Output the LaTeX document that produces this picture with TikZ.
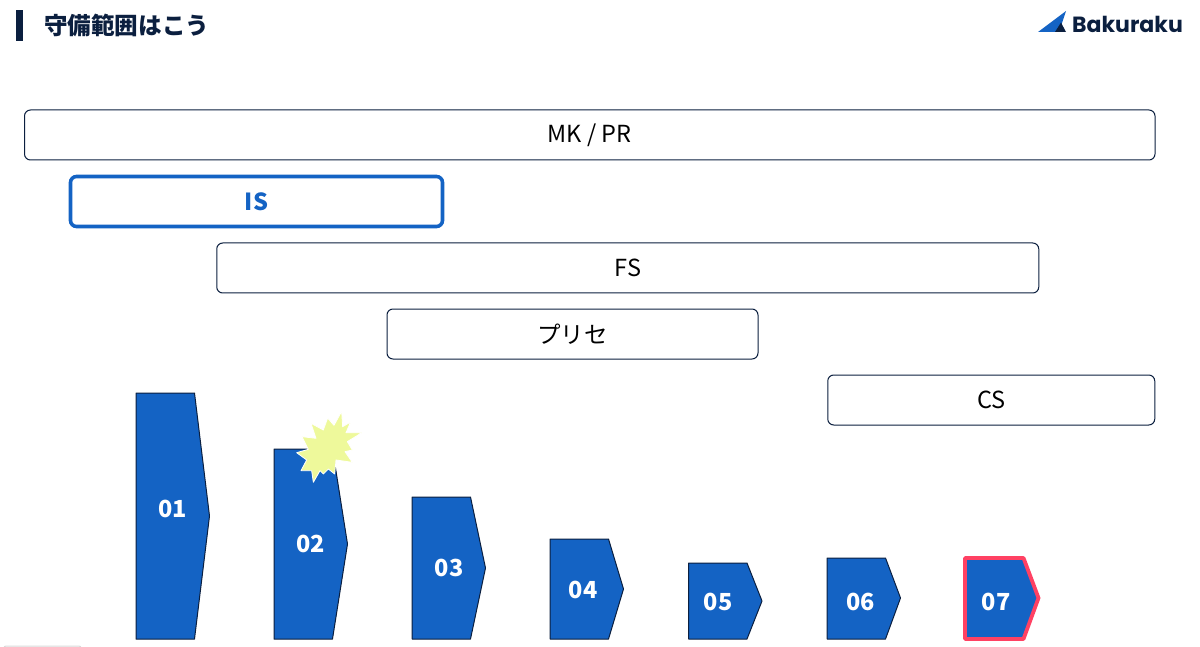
\documentclass[tikz,border=0pt]{standalone}
\usepackage{fontspec}
\setmainfont{Noto Sans CJK JP}
\newfontfamily\logofont{Poppins}
\definecolor{navy}{HTML}{0B1F3F}
\definecolor{brandblue}{HTML}{1463C4}
\definecolor{flash}{HTML}{EEF99B}
\definecolor{alert}{HTML}{FF4163}

\begin{document}
\begin{tikzpicture}[x=1pt,y=-1pt,%
                    barbox/.style={draw=navy,line width=1pt,rounded corners=6pt,fill=white,%
                                   inner sep=0pt,font=\fontsize{23.5}{23.5}\selectfont},%
                    isbox/.style={barbox,draw=brandblue,line width=3.6pt,text=brandblue,%
                                  font=\fontsize{23.5}{23.5}\selectfont\bfseries},%
                    steplabel/.style={text=white,inner sep=0pt,font=\fontsize{23.5}{23.5}\selectfont\bfseries},%
                    stepshape/.style={draw=navy,line width=1pt,fill=brandblue,line join=round}%
                    ]%
\useasboundingbox (0,0) rectangle (1200,647);%
\fill[navy] (16,10) rectangle (23,41);%
\node[anchor=west,inner sep=0pt,text=navy,font=\fontsize{23.6}{23.6}\selectfont\bfseries] (title) at (44,25.5) {守備範囲はこう};%
\fill[brandblue] (1038,32) -- (1066,11) -- (1059,32) -- cycle;%
\fill[navy] (1055,32) -- (1061,22.5) -- (1066,32) -- cycle;%
\node[anchor=west,inner sep=0pt,text=navy,font=\fontsize{22}{22}\selectfont\logofont\bfseries] (logo) at (1072,24) {Bakuraku};%
\node[barbox,minimum width=1130.5pt,minimum height=50pt] (mkpr) at (589.75,135) {MK / PR};%
\node[isbox,minimum width=372pt,minimum height=50pt] (is) at (256.5,201.5) {IS};%
\node[barbox,minimum width=822pt,minimum height=50pt] (fs) at (627.75,268) {FS};%
\node[barbox,minimum width=371pt,minimum height=50pt] (presales) at (572.5,334) {プリセ};%
\node[barbox,minimum width=327pt,minimum height=50pt] (cs) at (991.25,400) {CS};%
\foreach \stepname/\xleft/\ytop/\ytip/\xlabel/\ylabel in {%
  01/136/393/516/172.5/509,%
  02/274/449/544/310.5/544,%
  03/412/497/568/449/568,%
  04/550/539/589/583/590,%
  05/688.5/563/601/718/602,%
  06/827/558/598/860.5/602,%
  07/965/558/598/996/602}{%
  \draw[stepshape] (\xleft,\ytop) -- (\xleft+58.5,\ytop) -- (\xleft+73.5,\ytip) -- (\xleft+58.5,639) -- (\xleft,639) -- cycle;%
  \node[steplabel] (step\stepname) at (\xlabel,\ylabel) {\stepname};%
}%
\draw[alert,line width=3.8pt,line join=round] (965,558) -- (1023.5,558) -- (1038.5,598) -- (1023.5,639) -- (965,639) -- cycle;%
\begin{scope}[shift={(260,400)},x=0.3333pt,y=-0.3333pt]%
\filldraw[fill=flash,draw=white,line width=0.8pt,line join=round] (245,34) -- (248,80) -- (272,66) -- (258,98) -- (306,98) -- (262,125) -- (277,150) -- (255,155) -- (277,187) -- (228,180) -- (224,222) -- (205,207) -- (190,222) -- (180,212) -- (160,247) -- (155,212) -- (123,212) -- (140,180) -- (110,158) -- (145,148) -- (126,110) -- (168,115) -- (153,70) -- (190,90) -- (203,54) -- (222,76) -- cycle;%
\end{scope}%
\draw[draw=black!15,line width=1pt,rounded corners=2pt] (4,660) rectangle (81,646);%
\end{tikzpicture}
\end{document}
